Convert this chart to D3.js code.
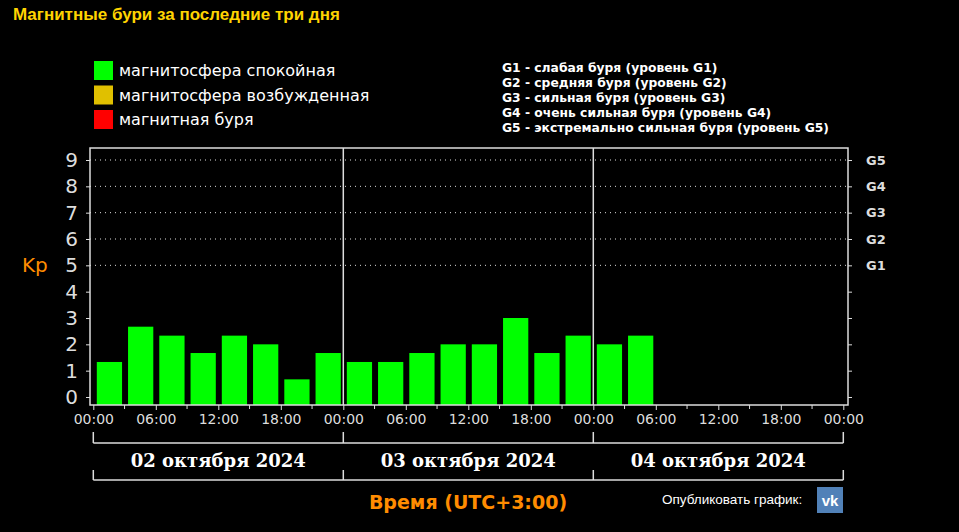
<!DOCTYPE html>
<html><head><meta charset="utf-8">
<script src="https://cdn.jsdelivr.net/npm/d3@7"></script>
<style>body{margin:0;background:#000}</style>
</head><body><svg id="chart" width="959" height="532"></svg>
<script>
const days = ["02 октября 2024", "03 октября 2024", "04 октября 2024"];
const kp = [1.33, 2.67, 2.33, 1.67, 2.33, 2.0, 0.67, 1.67,
            1.33, 1.33, 1.67, 2.0, 2.0, 3.0, 1.67, 2.33,
            2.0, 2.33];
const hourLabels = ["00:00", "06:00", "12:00", "18:00"];
const gLabels = ["G1", "G2", "G3", "G4", "G5"];
const legendItems = [["магнитосфера спокойная", "#00ff00"], ["магнитосфера возбужденная", "#e0c000"], ["магнитная буря", "#ff0000"]];
const gLegend = ["G1 - слабая буря (уровень G1)", "G2 - средняя буря (уровень G2)", "G3 - сильная буря (уровень G3)",
                 "G4 - очень сильная буря (уровень G4)", "G5 - экстремально сильная буря (уровень G5)"];

const svg = d3.select("#chart");
const x = d3.scaleLinear().domain([0, 72]).range([93.3, 843.3]);
const y = d3.scaleLinear().domain([0, 9]).range([397, 160]);
const pLeft = 90, pRight = 848, pTop = 148, pBottom = 405;

svg.append("text").attr("x", 13).attr("y", 20).text("Магнитные бури за последние три дня")
    .attr("font-family", "Liberation Sans").attr("font-weight", "bold").attr("font-size", 17).attr("fill", "#ffd400");

// legend
legendItems.forEach((d, i) => {
    svg.append("rect").attr("x", 94).attr("y", 61 + i * 24.5).attr("width", 19).attr("height", 19).attr("fill", d[1]);
    svg.append("text").attr("x", 119).attr("y", 76 + i * 24.5).text(d[0])
        .attr("font-family", "DejaVu Sans").attr("font-size", 16).attr("fill", "#fff");
});
gLegend.forEach((t, i) => {
    svg.append("text").attr("x", 502).attr("y", 72 + i * 15).text(t)
        .attr("font-family", "DejaVu Sans").attr("font-weight", "bold").attr("font-size", 12.3).attr("fill", "#fff");
});

// grid dotted
svg.append("g").selectAll("line").data([5, 6, 7, 8, 9]).join("line")
    .attr("x1", pLeft).attr("x2", pRight).attr("y1", d => y(d)).attr("y2", d => y(d))
    .attr("stroke", "#ddd").attr("stroke-dasharray", "1,4");

// bars
const bw = 72 / 24;
svg.append("g").selectAll("rect").data(kp).join("rect")
    .attr("x", (d, i) => x(i * bw) + 3.5).attr("width", x(bw) - x(0) - 6)
    .attr("y", d => y(d)).attr("height", d => pBottom - y(d))
    .attr("fill", d => d < 4 ? "#00ff00" : d < 5 ? "#e0c000" : "#ff0000");

// frame
svg.append("rect").attr("x", pLeft).attr("y", pTop).attr("width", pRight - pLeft).attr("height", pBottom - pTop)
    .attr("fill", "none").attr("stroke", "#ddd").attr("stroke-width", 1.5);
// day separators
svg.append("g").selectAll("line").data([24, 48]).join("line")
    .attr("x1", d => x(d)).attr("x2", d => x(d)).attr("y1", pTop).attr("y2", pBottom)
    .attr("stroke", "#ddd").attr("stroke-width", 1.5);

// y axes
const yl = svg.append("g").attr("transform", `translate(${pLeft},0)`)
    .call(d3.axisLeft(y).ticks(10).tickSize(4).tickPadding(8));
yl.selectAll("text").attr("font-family", "DejaVu Sans").attr("font-size", 20).attr("fill", "#ddd");
const yr = svg.append("g").attr("transform", `translate(${pRight},0)`)
    .call(d3.axisRight(y).ticks(10).tickSize(4).tickPadding(14).tickFormat(d => d >= 5 ? gLabels[d - 5] : ""));
yr.selectAll("text").attr("font-family", "DejaVu Sans").attr("font-weight", "bold").attr("font-size", 13).attr("fill", "#ddd");
[yl, yr].forEach(g => { g.select(".domain").remove(); g.selectAll("line").attr("stroke", "#ddd"); });

svg.append("text").attr("x", 22).attr("y", 272).text("Kp")
    .attr("font-family", "DejaVu Sans").attr("font-size", 20).attr("fill", "#ff8c00");

// x axis
const xa = svg.append("g").attr("transform", `translate(0,${pBottom})`)
    .call(d3.axisBottom(x).tickValues(d3.range(0, 73, 6)).tickSize(5).tickPadding(4)
        .tickFormat(d => hourLabels[(d % 24) / 6]));
xa.select(".domain").remove();
xa.selectAll("line").attr("stroke", "#ddd");
xa.selectAll("text").attr("font-family", "DejaVu Sans").attr("font-size", 14).attr("fill", "#ddd");
svg.append("g").selectAll("line").data(d3.range(3, 72, 6)).join("line")
    .attr("x1", d => x(d)).attr("x2", d => x(d)).attr("y1", pBottom).attr("y2", pBottom + 4).attr("stroke", "#ddd");

// day brackets
const br = svg.append("g").attr("stroke", "#ddd").attr("stroke-width", 1.5);
br.append("line").attr("x1", x(0)).attr("x2", x(72)).attr("y1", 443).attr("y2", 443);
br.append("line").attr("x1", x(0)).attr("x2", x(72)).attr("y1", 480).attr("y2", 480);
br.selectAll(".t1").data([0, 24, 48, 72]).join("line")
    .attr("x1", d => x(d)).attr("x2", d => x(d)).attr("y1", 432).attr("y2", 443);
br.selectAll(".t2").data([0, 24, 48, 72]).join("line")
    .attr("x1", d => x(d)).attr("x2", d => x(d)).attr("y1", 470).attr("y2", 480);
svg.append("g").selectAll("text").data(days).join("text")
    .attr("x", (d, i) => x(i * 24 + 12)).attr("y", 467).attr("text-anchor", "middle").text(d => d)
    .attr("font-family", "DejaVu Serif").attr("font-weight", "bold").attr("font-size", 18).attr("fill", "#fff");

svg.append("text").attr("x", 468).attr("y", 509).attr("text-anchor", "middle").text("Время (UTC+3:00)")
    .attr("font-family", "DejaVu Sans").attr("font-weight", "bold").attr("font-size", 19).attr("fill", "#ff8c00");

svg.append("text").attr("x", 662).attr("y", 504).text("Опубликовать график:")
    .attr("font-family", "Liberation Sans").attr("font-size", 13.5).attr("fill", "#fff");
svg.append("rect").attr("x", 817).attr("y", 487).attr("width", 26).attr("height", 26).attr("fill", "#5181b8");
svg.append("text").attr("x", 830).attr("y", 506).attr("text-anchor", "middle").text("vk")
    .attr("font-family", "Liberation Sans").attr("font-weight", "bold").attr("font-size", 15).attr("fill", "#fff");
</script></body></html>
